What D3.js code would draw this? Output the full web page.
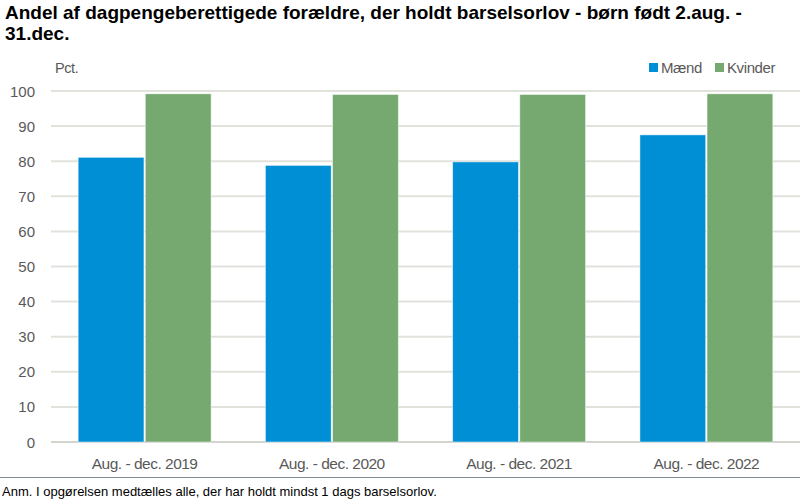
<!DOCTYPE html>
<html lang="da">
<head>
<meta charset="UTF-8">
<title>Barselsorlov</title>
<script src="https://cdnjs.cloudflare.com/ajax/libs/d3/7.8.5/d3.min.js"></script>
<style>
  body { margin: 0; background: #fff; }
  text { font-family: "Liberation Sans", Arial, sans-serif; }
</style>
</head>
<body>
<div id="chart"></div>
<script>
var categories = ["Aug. - dec. 2019", "Aug. - dec. 2020", "Aug. - dec. 2021", "Aug. - dec. 2022"];
var series = ["Mænd", "Kvinder"];
var maend = [81.1, 78.8, 79.8, 87.5];
var kvinder = [99.2, 99.0, 99.0, 99.2];
var yTicks = [0, 10, 20, 30, 40, 50, 60, 70, 80, 90, 100];
var colors = ["#008fd5", "#76a96f"];

var width = 800, height = 501;
var svg = d3.select("#chart").append("svg")
    .attr("width", width)
    .attr("height", height);

svg.append("rect").attr("width", width).attr("height", height).attr("fill", "#fff");

// title
svg.append("text").attr("x", 5).attr("y", 19)
    .attr("font-size", 19).attr("font-weight", "bold").attr("fill", "#000")
    .text("Andel af dagpengeberettigede forældre, der holdt barselsorlov - børn født 2.aug. -");
svg.append("text").attr("x", 5).attr("y", 40)
    .attr("font-size", 19).attr("font-weight", "bold").attr("fill", "#000")
    .text("31.dec.");

var x = d3.scaleBand().domain(categories).range([51, 800]).paddingInner(0.29).paddingOuter(0.145);
var xs = d3.scaleBand().domain(series).range([0, x.bandwidth()]).paddingInner(0.02);
var y = d3.scaleLinear().domain([0, 100]).range([442, 91]);

// gridlines
svg.append("g").selectAll("line").data(yTicks).enter().append("line")
    .attr("x1", 51).attr("x2", 800)
    .attr("y1", function (d) { return y(d); })
    .attr("y2", function (d) { return y(d); })
    .attr("stroke", function (d) { return d === 0 ? "#d4d4ce" : "#e2e2dd"; })
    .attr("stroke-width", 2);

// y axis labels
svg.append("g").selectAll("text").data(yTicks).enter().append("text")
    .attr("x", 35)
    .attr("y", function (d) { return y(d) + 5.5; })
    .attr("text-anchor", "end")
    .attr("font-size", 15).attr("fill", "#595959")
    .text(function (d) { return d; });

svg.append("text").attr("x", 55).attr("y", 73)
    .attr("font-size", 14.5).attr("fill", "#595959").attr("letter-spacing", -0.4).text("Pct.");

// bars
var data = categories.map(function (c, i) {
    return { cat: c, vals: [{ s: series[0], v: maend[i] }, { s: series[1], v: kvinder[i] }] };
});

var groups = svg.append("g").selectAll("g").data(data).enter().append("g")
    .attr("transform", function (d) { return "translate(" + x(d.cat) + ",0)"; });

groups.selectAll("rect").data(function (d) { return d.vals; }).enter().append("rect")
    .attr("x", function (d) { return xs(d.s); })
    .attr("width", xs.bandwidth())
    .attr("y", function (d) { return y(d.v); })
    .attr("height", function (d) { return y(0) - y(d.v); })
    .attr("fill", function (d, i) { return colors[i]; })
    .attr("stroke", "#ffffff")
    .attr("stroke-opacity", 0.6)
    .attr("stroke-width", 0.8);

// x labels
svg.append("g").selectAll("text").data(categories).enter().append("text")
    .attr("x", function (d) { return x(d) + x.bandwidth() / 2; })
    .attr("y", 469)
    .attr("text-anchor", "middle")
    .attr("font-size", 15.5).attr("letter-spacing", -0.5).attr("fill", "#595959")
    .text(function (d) { return d; });

// legend
var legendX = [649, 715];
series.forEach(function (s, i) {
    svg.append("rect").attr("x", legendX[i]).attr("y", 63).attr("width", 9).attr("height", 9)
        .attr("fill", colors[i]);
    svg.append("text").attr("x", legendX[i] + 12).attr("y", 73)
        .attr("font-size", 15).attr("letter-spacing", -0.4).attr("fill", "#595959").text(s);
});

// footnote
svg.append("line").attr("x1", 0).attr("x2", 800).attr("y1", 477.5).attr("y2", 477.5)
    .attr("stroke", "#7f8c93").attr("stroke-width", 1.2);
svg.append("text").attr("x", 2).attr("y", 496)
    .attr("font-size", 13).attr("fill", "#000")
    .text("Anm. I opgørelsen medtælles alle, der har holdt mindst 1 dags barselsorlov.");
</script>
</body>
</html>
